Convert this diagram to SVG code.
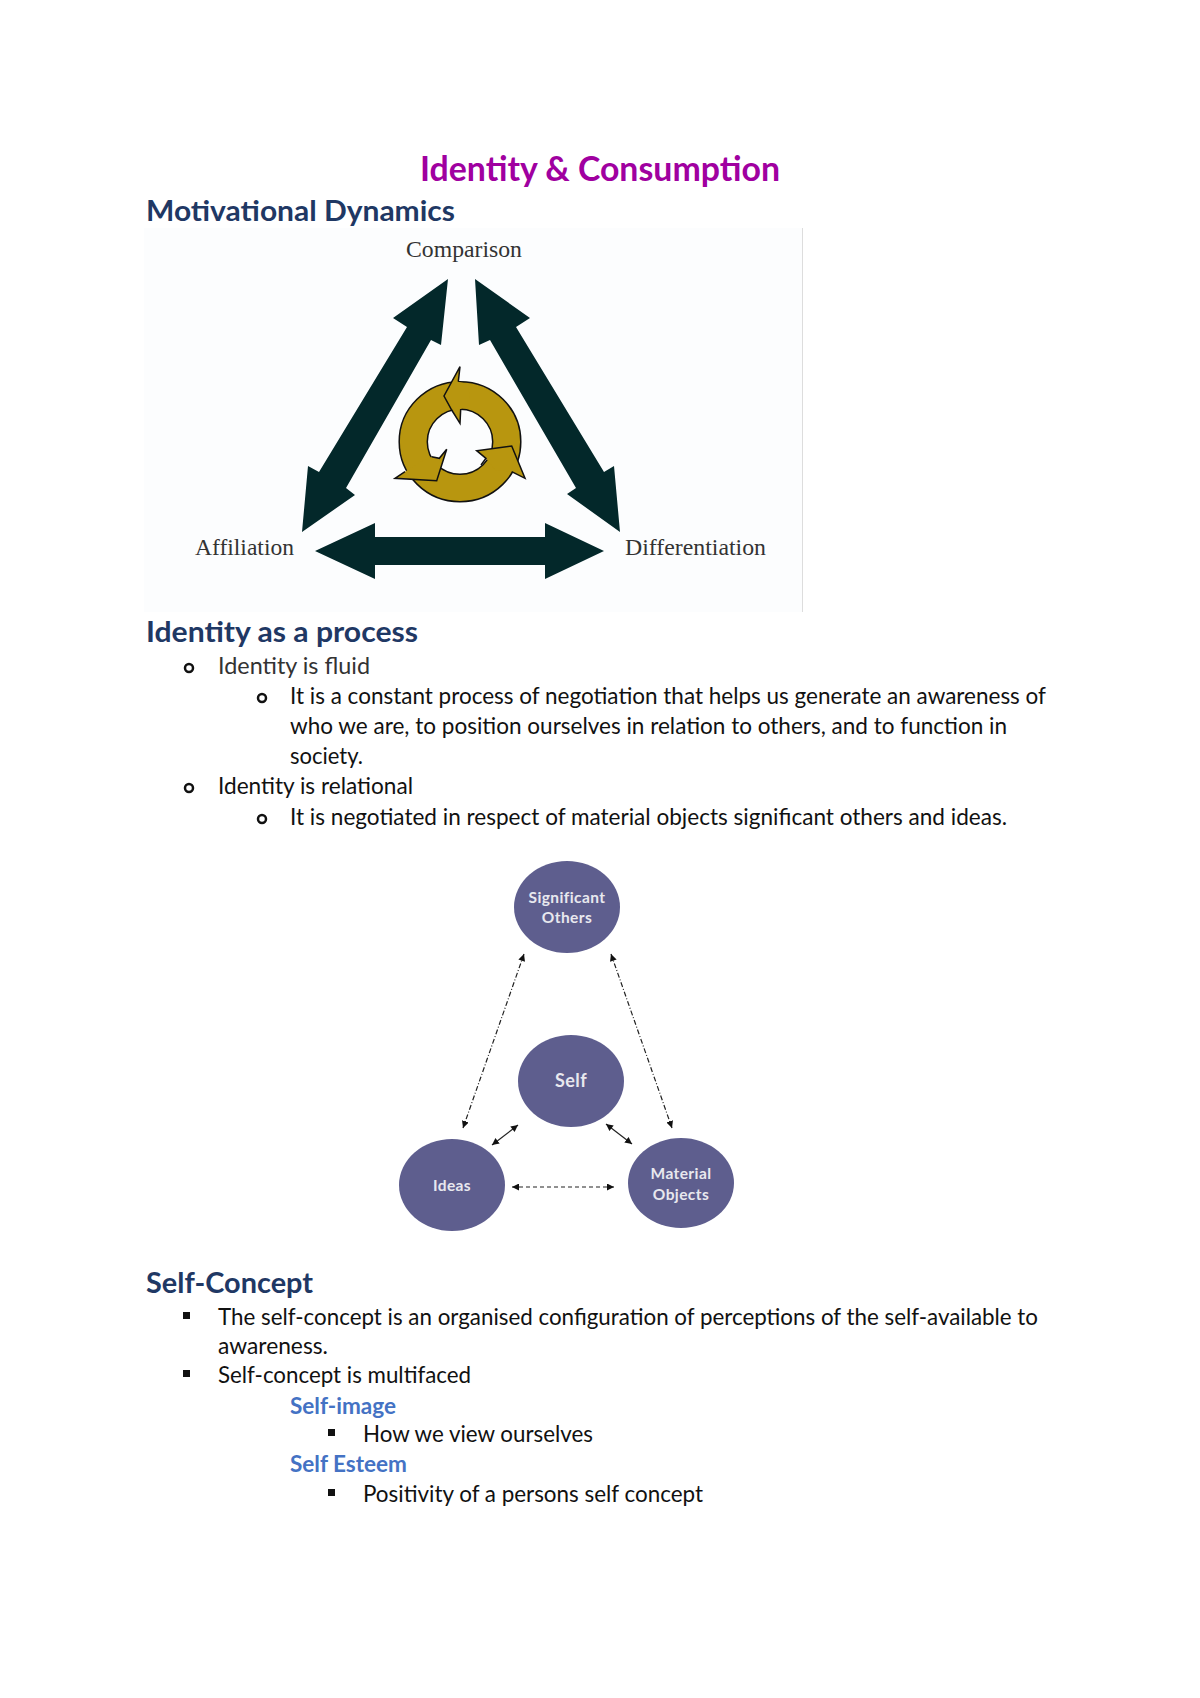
<svg xmlns="http://www.w3.org/2000/svg" width="1200" height="1698" viewBox="0 0 1200 1698">
<style>
text{font-family:"Lato","Carlito","Liberation Sans",sans-serif}
.h{font-size:29px;font-weight:700;fill:#1f3864}
.b{font-size:23px;fill:#111}
.g{fill:#333}
.s{font-size:23px;font-weight:700;fill:#4472c4}
.lab{font-family:"Liberation Serif",serif;font-size:23px;fill:#333}
.n{font-size:15.500px;font-weight:700;fill:#e8e8ee;text-anchor:middle;letter-spacing:.4px}
.arr{fill:#03282a;stroke:none}
.ring{fill:#b8960f;stroke:#111;stroke-width:1.5}
.hf{fill:#b8960f;stroke:none}
.hl{fill:none;stroke:#111;stroke-width:1.500;stroke-linejoin:miter}
.node{fill:#5e5e8e}
.c{stroke:#222;stroke-width:1.200;fill:none;marker-start:url(#ms);marker-end:url(#me)}
.d{stroke-dasharray:5 2 1 2}
.e{stroke-dasharray:4 3}
.bo{fill:none;stroke:#111;stroke-width:2.5}
.bs{fill:#111}
</style>
<defs>
<marker id="me" markerWidth="9" markerHeight="8" refX="7" refY="3.500" orient="auto" markerUnits="userSpaceOnUse"><path d="M0 0L7 3.500L0 7z" fill="#111"/></marker>
<marker id="ms" markerWidth="9" markerHeight="8" refX="0" refY="3.500" orient="auto" markerUnits="userSpaceOnUse"><path d="M7 0L0 3.500L7 7z" fill="#111"/></marker>
</defs>
<rect width="1200" height="1698" fill="#fff"/>
<text x="420" y="181" font-size="35" font-weight="700" fill="#a000a0" textLength="360" lengthAdjust="spacingAndGlyphs">Identity &amp; Consumption</text>
<text class="h" x="146" y="221" textLength="309" lengthAdjust="spacingAndGlyphs">Motivational Dynamics</text>

<g id="motivational-diagram">
<rect x="144" y="228" width="658" height="384" fill="#fcfdfe"/>
<line x1="802.500" y1="228" x2="802.500" y2="612" stroke="#ddd" stroke-width="1"/>
<text class="lab" x="406" y="257" textLength="116" lengthAdjust="spacingAndGlyphs">Comparison</text>
<text class="lab" x="195" y="555" textLength="99" lengthAdjust="spacingAndGlyphs">Affiliation</text>
<text class="lab" x="625" y="555" textLength="141" lengthAdjust="spacingAndGlyphs">Differentiation</text>
<polygon class="arr" points="448,279 393,318 407,327 319,472 308,466 302,532 355,495 346,488 431,340 441,345"/>
<polygon class="arr" points="475,279 530,318 516,327 604,472 614,466 620,532 567,494 576,488 490,340 479,345"/>
<polygon class="arr" points="315,551 375,523 375,537 545,537 545,523 604,551 545,579 545,565 375,565 375,579"/>
<path class="ring" fill-rule="evenodd" d="M520.800 441.700A60.800 60 0 1 1 399.200 441.700A60.800 60 0 1 1 520.800 441.700ZM492.700 441.700A32.700 32.500 0 1 0 427.300 441.700A32.700 32.500 0 1 0 492.700 441.700Z"/>
<polygon class="hf" points="460,366.700 444,396 460,423.300 461,409 470,400 468,384 458,381.700"/>
<polyline class="hl" points="458.300,381.700 460,366.700 444,396 451.700,410 460,423.300 460.700,409"/>
<polygon class="hf" points="476.700,450.700 511.700,446 525,478.300 511.700,471.700 495,470 486,458.300"/>
<polyline class="hl" points="511.700,471.700 525,478.300 511.700,446 476.700,450.700 486,458.300 481,465"/>
<polygon class="hf" points="395,478.300 436.700,480.700 446.700,449.300 439.300,458.300 431.700,456.700 420,462 405,471.700"/>
<polyline class="hl" points="405,471.700 395,478.300 436.700,480.700 446.700,449.300 439.300,458.300 431.700,456.700"/>
</g>

<text class="h" x="146" y="642" textLength="272" lengthAdjust="spacingAndGlyphs">Identity as a process</text>
<g id="list-1">
<circle class="bo" cx="189" cy="668" r="4"/>
<text class="b g" x="218" y="674" textLength="152" lengthAdjust="spacingAndGlyphs">Identity is fluid</text>
<circle class="bo" cx="262" cy="698" r="4"/>
<text class="b" x="290" y="704" textLength="756" lengthAdjust="spacingAndGlyphs">It is a constant process of negotiation that helps us generate an awareness of</text>
<text class="b" x="290" y="734" textLength="717" lengthAdjust="spacingAndGlyphs">who we are, to position ourselves in relation to others, and to function in</text>
<text class="b" x="290" y="764" textLength="73" lengthAdjust="spacingAndGlyphs">society.</text>
<circle class="bo" cx="189" cy="788" r="4"/>
<text class="b" x="218" y="794" textLength="195" lengthAdjust="spacingAndGlyphs">Identity is relational</text>
<circle class="bo" cx="262" cy="819" r="4"/>
<text class="b" x="290" y="825" textLength="717" lengthAdjust="spacingAndGlyphs">It is negotiated in respect of material objects significant others and ideas.</text>
</g>

<g id="connectors">
<line class="c d" x1="524" y1="954" x2="463" y2="1128"/>
<line class="c d" x1="611" y1="954" x2="672" y2="1128"/>
<line class="c e" x1="512" y1="1187" x2="614" y2="1187"/>
<line class="c" x1="518" y1="1125" x2="492" y2="1145"/>
<line class="c" x1="606" y1="1124" x2="632" y2="1144"/>
</g>
<g id="node-significant-others"><ellipse class="node" cx="567" cy="907" rx="53" ry="46"/><text class="n" x="567" y="903">Significant</text><text class="n" x="567" y="923">Others</text></g>
<g id="node-self"><ellipse class="node" cx="571" cy="1081" rx="53" ry="46"/><text class="n" x="571" y="1087" style="font-size:18px">Self</text></g>
<g id="node-ideas"><ellipse class="node" cx="452" cy="1185" rx="53" ry="46"/><text class="n" x="452" y="1191">Ideas</text></g>
<g id="node-material-objects"><ellipse class="node" cx="681" cy="1183" rx="53" ry="45"/><text class="n" x="681" y="1179">Material</text><text class="n" x="681" y="1200">Objects</text></g>

<text class="h" x="146" y="1293" textLength="167" lengthAdjust="spacingAndGlyphs">Self-Concept</text>
<g id="list-2">
<rect class="bs" x="183" y="1312" width="7" height="7"/>
<text class="b" x="218" y="1325" textLength="820" lengthAdjust="spacingAndGlyphs">The self-concept is an organised configuration of perceptions of the self-available to</text>
<text class="b" x="218" y="1354" textLength="110" lengthAdjust="spacingAndGlyphs">awareness.</text>
<rect class="bs" x="183" y="1370" width="7" height="7"/>
<text class="b" x="218" y="1383" textLength="253" lengthAdjust="spacingAndGlyphs">Self-concept is multifaced</text>
<text class="s" x="290" y="1414" textLength="106" lengthAdjust="spacingAndGlyphs">Self-image</text>
<rect class="bs" x="328" y="1429" width="7" height="7"/>
<text class="b" x="363" y="1442" textLength="230" lengthAdjust="spacingAndGlyphs">How we view ourselves</text>
<text class="s" x="290" y="1472" textLength="117" lengthAdjust="spacingAndGlyphs">Self Esteem</text>
<rect class="bs" x="328" y="1489" width="7" height="7"/>
<text class="b" x="363" y="1502" textLength="340" lengthAdjust="spacingAndGlyphs">Positivity of a persons self concept</text>
</g>
</svg>
